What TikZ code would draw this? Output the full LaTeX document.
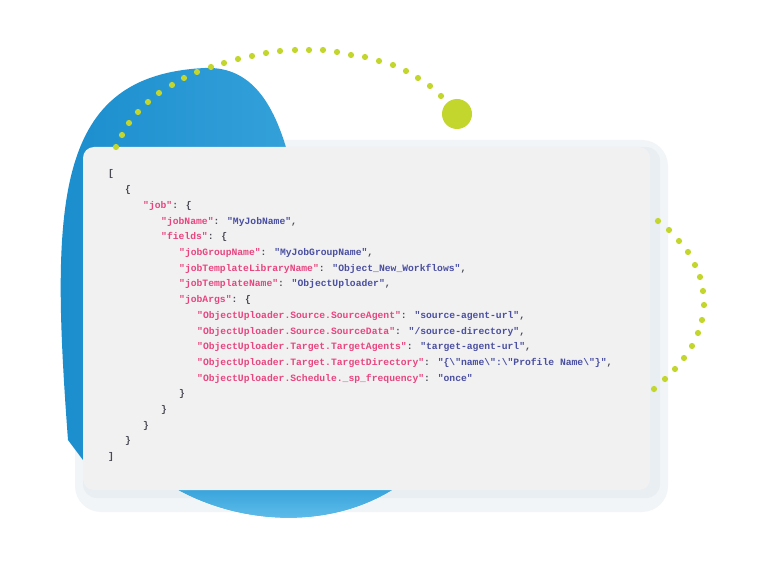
\documentclass[tikz,border=0pt]{standalone}
\usepackage{fontspec}
\newfontfamily\codefont{Liberation Mono}
\definecolor{keyc}{HTML}{E8457F}
\definecolor{valc}{HTML}{4A4FA0}
\definecolor{punc}{HTML}{4A4A55}
\definecolor{dotc}{HTML}{C2D62E}
\definecolor{cardc}{HTML}{F1F1F2}
\definecolor{framec}{HTML}{F2F5F7}
\definecolor{bandc}{HTML}{E8EEF2}
\definecolor{blueA}{HTML}{1A8DCD}
\definecolor{blueB}{HTML}{3FA9DF}
\definecolor{blueC}{HTML}{6CC6F0}
\newcommand{\Kk}[1]{\textcolor{keyc}{"#1"}}
\newcommand{\Vv}[1]{\textcolor{valc}{"#1"}}
\tikzset{code/.style={anchor=base west,inner sep=0pt,font=\codefont\bfseries\fontsize{9.7}{11}\selectfont,text=punc},
  gdot/.style={fill=dotc,draw=none}}
\begin{document}
\begin{tikzpicture}[x=1pt,y=-1pt]
\useasboundingbox (0,0) rectangle (768,569);
\fill[white] (0,0) rectangle (768,569);
% frame
\fill[framec,rounded corners=26pt] (75,140) rectangle (668,512);
\fill[bandc,rounded corners=14pt] (83,147) rectangle (660,498);
% blob
\shade[left color=blueA,right color=blueB]
  (68,440) .. controls (50,200) and (55,75) .. (205,68)
  .. controls (255,66) and (278,110) .. (292,170)
  -- (395,488) .. controls (330,530) and (240,525) .. (175,488) -- (83,460) -- cycle;
\shade[top color=blueB!80!blueA,bottom color=blueC] (175,488) .. controls (240,525) and (330,530) .. (395,488) -- cycle;
% card
\fill[cardc,rounded corners=11pt] (83,147) rectangle (650,490);
% dots
\foreach \p in {(116,147),(122,135),(129,123),(138,112),(148,102),(159,93),(172,85),(184,78),(197,72),(211,67),(224,63),(238,59),(252,56),(266,53),(280,51),(295,50),(309,50),(323,50),(337,52),(351,55),(365,57),(379,61),(393,65),(406,71),(418,78),(430,86),(441,96)}
  \fill[gdot] \p circle (3.1pt);
\fill[gdot] (457,114) circle (15pt);
\foreach \p in {(658,221),(669,230),(679,241),(688,252),(695,265),(700,277),(703,291),(704,305),(702,320),(698,333),(692,346),(684,358),(675,369),(665,379),(654,389)}
  \fill[gdot] \p circle (3.1pt);
% code
\node[code] (l1) at (108,177) {[};
\node[code] (l2) at (125,192.7) {\{};
\node[code] (l3) at (143,208.4) {\Kk{job}: \{};
\node[code] (l4) at (161,224.1) {\Kk{jobName}: \Vv{MyJobName},};
\node[code] (l5) at (161,239.8) {\Kk{fields}: \{};
\node[code] (l6) at (179,255.5) {\Kk{jobGroupName}: \Vv{MyJobGroupName},};
\node[code] (l7) at (179,271.2) {\Kk{jobTemplateLibraryName}: \Vv{Object\_New\_Workflows},};
\node[code] (l8) at (179,286.9) {\Kk{jobTemplateName}: \Vv{ObjectUploader},};
\node[code] (l9) at (179,302.6) {\Kk{jobArgs}: \{};
\node[code] (l10) at (197,318.3) {\Kk{ObjectUploader.Source.SourceAgent}: \Vv{source-agent-url},};
\node[code] (l11) at (197,334) {\Kk{ObjectUploader.Source.SourceData}: \Vv{/source-directory},};
\node[code] (l12) at (197,349.7) {\Kk{ObjectUploader.Target.TargetAgents}: \Vv{target-agent-url},};
\node[code] (l13) at (197,365.4) {\Kk{ObjectUploader.Target.TargetDirectory}: \textcolor{valc}{"\{\textbackslash"name\textbackslash":\textbackslash"Profile Name\textbackslash"\}"},};
\node[code] (l14) at (197,381.1) {\Kk{ObjectUploader.Schedule.\_sp\_frequency}: \Vv{once}};
\node[code] (l15) at (179,396.8) {\}};
\node[code] (l16) at (161,412.5) {\}};
\node[code] (l17) at (143,428.2) {\}};
\node[code] (l18) at (125,443.9) {\}};
\node[code] (l19) at (108,459.6) {]};
\end{tikzpicture}
\end{document}
